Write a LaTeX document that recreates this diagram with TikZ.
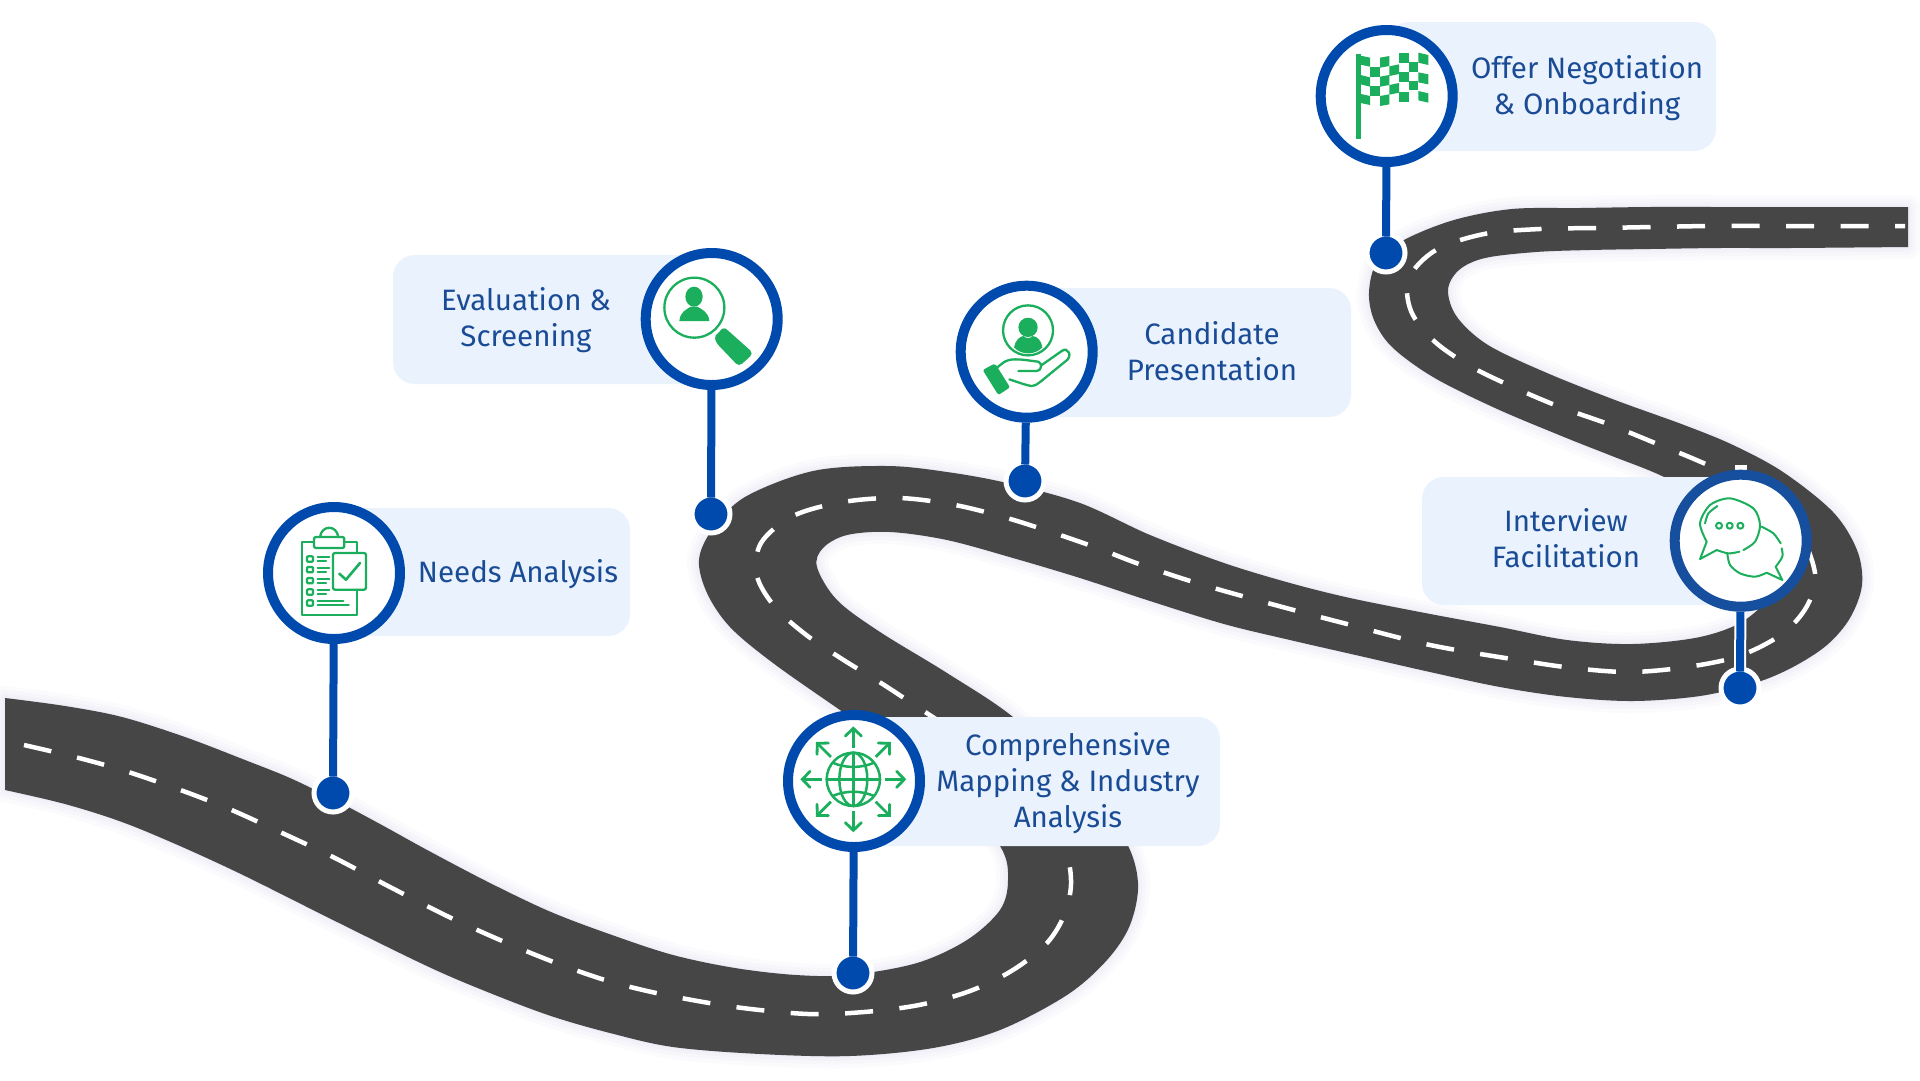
\documentclass[tikz,border=0pt]{standalone}
\usepackage{fontspec}
\setmainfont{Fira Sans}
\usetikzlibrary{calc}
\definecolor{roadc}{HTML}{464646}
\definecolor{ring}{HTML}{004AAD}
\definecolor{ringb}{HTML}{174F9F}
\definecolor{labelc}{HTML}{EAF2FE}
\definecolor{txt}{HTML}{1A4C96}
\definecolor{grn}{HTML}{1BAE5C}
\definecolor{glow}{HTML}{5A50C8}
\tikzset{
  labelbox/.style={fill=labelc,rounded corners=22pt,inner sep=0pt,draw=none},
  labeltext/.style={text=txt,font=\fontsize{29.5}{36}\selectfont,align=center,inner sep=0pt},
  pin/.style={circle,draw=ring,fill=white,line width=10pt,minimum size=132pt,inner sep=0pt},
  dotn/.style={circle,fill=ring,draw=white,line width=5pt,minimum size=38pt,inner sep=0pt},
  stem/.style={draw=ring,line width=8pt,shorten >=-5pt},
  halo/.style={draw=white,line width=12pt},
  ico/.style={draw=grn,line width=2.3pt,line join=round,line cap=round,fill=none},
  icof/.style={fill=grn,draw=none},
}
\def\roadA{(5,698) (65,706) (122,717) (185,737) (245,760) (290,778) (333,799) (380,824) (429,851) (490,883) (551,912) (612,935) (673,955) (735,968) (796,975) (850,975) (917,963) (967,940) (1000,910) (1008,880) (1000,846) (950,785) (895,748) (840,710) (773,663) (730,627) (707,593) (699,560) (712,530) (745,497) (813,471) (887,466) (947,472) (1007,483) (1080,503) (1150,535) (1224,563) (1290,583) (1350,598) (1425,613) (1500,627) (1567,640) (1633,644) (1700,637) (1745,620) (1770,590) (1755,545) (1715,505) (1662,476) (1612,456) (1564,437) (1495,408) (1433,377) (1392,347) (1374,320) (1369,292) (1377,262) (1404,240) (1454,220) (1512,209) (1580,208) (1650,207) (1720,207) (1790,207) (1908,207)}
\def\roadB{(1908,247) (1790,248) (1720,248) (1650,249) (1590,250) (1536,252) (1485,258) (1459,270) (1448,290) (1457,317) (1488,345) (1547,373) (1615,400) (1684,425) (1733,445) (1783,472) (1833,512) (1857,550) (1862,585) (1850,618) (1827,645) (1793,667) (1755,683) (1700,696) (1633,701) (1567,697) (1500,687) (1430,672) (1360,656) (1290,640) (1224,624) (1150,601) (1080,578) (1013,558) (947,540) (890,532) (847,535) (823,548) (817,567) (837,600) (880,632) (947,673) (1013,717) (1080,780) (1125,840) (1138,883) (1130,925) (1107,960) (1067,995) (1000,1030) (933,1048) (850,1056) (760,1054) (673,1047) (610,1033) (551,1016) (490,993) (429,967) (335,921) (245,876) (180,846) (122,822) (65,804) (5,790)}
\def\roadC{(24,745) (75,757) (122,770) (175,788) (227,808) (280,832) (333,857) (390,887) (447,916) (500,940) (551,961) (605,980) (661,994) (735,1007) (808,1014) (864,1012) (919,1005) (970,991) (1013,970) (1047,943) (1065,913) (1071,880) (1062,845) (1020,780) (970,742) (919,708) (881,683) (842,659) (805,634) (775,607) (757,576) (761,543) (793,516) (843,502) (899,498) (955,505) (1007,518) (1057,534) (1100,549) (1139,564) (1200,584) (1275,605) (1347,624) (1430,645) (1518,660) (1573,668) (1630,672) (1687,667) (1739,656) (1782,634) (1807,606) (1815,573) (1795,525) (1750,485) (1701,462) (1655,443) (1608,424) (1560,407) (1513,387) (1470,366) (1434,341) (1411,311) (1409,278) (1436,250) (1484,234) (1540,229) (1600,228) (1653,227) (1710,226) (1767,226) (1830,226) (1905,226)}
\begin{document}
\begin{tikzpicture}[x=1pt,y=-1pt]
\useasboundingbox (0,0) rectangle (1920,1080);
\fill[white] (0,0) rectangle (1920,1080);
% road
\foreach \w in {24,16,9,3}{
  \draw[glow,opacity=.022,line width=\w pt,line join=round] plot[smooth,tension=.55] coordinates {\roadA} -- plot[smooth,tension=.55] coordinates {\roadB} -- cycle;
}
\fill[roadc] plot[smooth,tension=.55] coordinates {\roadA} -- plot[smooth,tension=.55] coordinates {\roadB} -- cycle;
\draw[white,line width=4.5pt,dash pattern=on 28pt off 26.5pt] plot[smooth,tension=.55] coordinates {\roadC};
% label boxes
\node[labelbox,minimum width=296pt,minimum height=128pt] (b1) at (482,572) {};
\node[labelbox,minimum width=318pt,minimum height=129pt] (b2) at (552,319.5) {};
\node[labelbox,minimum width=324pt,minimum height=129pt] (b3) at (1189,352.5) {};
\node[labelbox,minimum width=366pt,minimum height=129pt] (b4) at (1037,781.5) {};
\node[labelbox,minimum width=319pt,minimum height=128pt] (b5) at (1581.5,541) {};
\node[labelbox,minimum width=329pt,minimum height=129pt] (b6) at (1551.5,86.5) {};
\node[labeltext] (t1) at (518,574.5) {Needs Analysis};
\node[labeltext] (t2) at (526,320.5) {Evaluation \&\\Screening};
\node[labeltext] (t3) at (1212,351.5) {Candidate\\Presentation};
\node[labeltext] (t4) at (1068,783.5) {Comprehensive\\Mapping \& Industry\\Analysis};
\node[labeltext] (t5) at (1566,538.5) {Interview\\Facilitation};
\node[labeltext] (t6) at (1587,88.5) {Offer Negotiation\\\& Onboarding};
% coordinates for stems, pins
\coordinate (k1) at (334,573);
\coordinate (k2) at (711.7,319);
\coordinate (k3) at (1026.7,351.7);
\coordinate (k4) at (854,781);
\coordinate (k5) at (1740.7,540.7);
\coordinate (k6) at (1386.7,96);
\draw[halo] (1741,465) -- (1741,540);
\foreach \c/\x/\y in {k1/333/793,k2/711/514,k3/1025/481,k4/853/973,k5/1740/688,k6/1386/253}{
  \draw[halo] (\c) -- (\x,\y);
}
\node[dotn] (d1) at (333,793) {};
\node[dotn] (d2) at (711,514) {};
\node[dotn] (d3) at (1025,481) {};
\node[dotn] (d4) at (853,973) {};
\node[dotn] (d5) at (1740,688) {};
\node[dotn] (d6) at (1386,253) {};
\node[pin] (c1) at (k1) {};
\node[pin] (c2) at (k2) {};
\node[pin] (c3) at (k3) {};
\node[pin] (c4) at (k4) {};
\node[pin,draw=ringb] (c5) at (k5) {};
\node[pin] (c6) at (k6) {};
\foreach \n in {1,2,3,4,5,6}{ \draw[stem] (c\n) -- (d\n); }
% icon 1: clipboard
\begin{scope}[shift={(k1)},scale=1/3,shift={(-282,-280)}]
  \draw[ico] (222,187) -- (185,187) -- (185,405) -- (350,405) -- (350,330);
  \draw[ico] (313,187) -- (350,187) -- (350,218);
  \draw[ico,rounded corners=2pt] (222,172) rectangle (313,205);
  \draw[ico] (240,172) .. controls (245,135) and (290,135) .. (295,172);
  \draw[ico,rounded corners=2pt] (279,220) rectangle (378,330);
  \draw[ico,line width=2.6pt] (298,282) -- (318,300) -- (360,250);
  \foreach \yy in {238,270,303,337,370}{ \draw[ico,rounded corners=1pt] (201,\yy-8) rectangle (219,\yy+8); }
  \foreach \yy/\xa/\xb in {233/268/258,265/268/258,297/268/258,330/268/258}{
    \draw[ico] (233,\yy) -- (\xa,\yy); \draw[ico] (233,\yy+12) -- (\xb,\yy+12);
  }
  \draw[ico] (233,363) -- (310,363);
  \draw[ico] (233,377) -- (326,377);
\end{scope}
% icon 2: magnifier
\begin{scope}[shift={(k2)},scale=1/3,shift={(-275,-237)}]
  \draw[ico] (223,203) circle[radius=90];
  \fill[grn] (222,170) ellipse[x radius=26,y radius=30];
  \fill[grn] (178,243) .. controls (180,215) and (200,208) .. (212,200) -- (232,200) .. controls (245,208) and (265,215) .. (268,243) -- cycle;
  \fill[grn,rounded corners=2pt] (283,290) -- (290,310) -- (352,375) -- (362,375) -- (395,345) -- (395,335) -- (320,268) -- (310,262) -- (303,270) -- cycle;
\end{scope}
% icon 3: hand
\begin{scope}[shift={(k3)},scale=1/3,shift={(-260,-245)}]
  \draw[ico] (264,181) circle[radius=75];
  \fill[grn] (264,172) circle[radius=29];
  \fill[grn] (222,232) .. controls (225,212) and (240,198) .. (250,198) .. controls (258,206) and (270,206) .. (278,198) .. controls (290,198) and (305,212) .. (307,232) .. controls (285,256) and (244,256) .. (222,232) -- cycle;
  \fill[grn,rounded corners=2pt] (128,300) -- (165,280) -- (210,352) -- (175,375) -- cycle;
  \draw[ico] (172,292) .. controls (185,282) and (195,268) .. (225,268) .. controls (250,268) and (270,272) .. (295,275) .. controls (308,280) and (305,302) .. (290,303) -- (235,303);
  \draw[ico] (208,328) .. controls (230,335) and (255,345) .. (275,348) .. controls (290,348) and (300,335) .. (375,275) .. controls (400,260) and (385,228) .. (365,243) -- (305,285);
\end{scope}
% icon 4: globe
\begin{scope}[shift={(k4)},scale=1/3,shift={(-252,-243)}]
  \begin{scope}[ico,line width=2.5pt]
    \draw (250,238) circle[radius=80];
    \draw (250,158) -- (250,318);
    \draw (170,238) -- (330,238);
    \draw (250,238) ellipse[x radius=42,y radius=80];
    \draw (188,188) .. controls (225,205) and (275,205) .. (312,188);
    \draw (188,288) .. controls (225,271) and (275,271) .. (312,288);
  \end{scope}
  \foreach \a in {0,45,...,315}{
    \begin{scope}[shift={(250,238)},rotate=\a]
      \draw[ico,line width=2.8pt,line cap=butt] (95,0) -- (153,0);
      \draw[ico,line width=2.8pt,line join=miter] (130,-24) -- (153,0) -- (130,24);
    \end{scope}
  }
\end{scope}
% icon 5: chat
\begin{scope}[shift={(k5)},scale=1/3,shift={(-242,-242)}]
  \draw[ico,line width=2pt] plot[smooth] coordinates {(170,270) (205,280) (238,275)};
  \draw[ico,line width=2pt] plot[smooth] coordinates {(250,270) (285,245) (300,195) (280,145) (210,115) (150,135) (120,190) (140,245)} -- (120,297) -- (170,270);
  \draw[ico,line width=2pt] plot[smooth] coordinates {(172,138) (145,160) (135,190)};
  \draw[ico,line width=2pt] plot[smooth] coordinates {(305,200) (340,220) (362,250)};
  \draw[ico,line width=2pt] plot[smooth] coordinates {(365,265) (367,290) (347,320)} -- (367,360) -- (320,338);
  \draw[ico,line width=2pt] plot[smooth] coordinates {(320,338) (285,350) (240,340) (210,315) (202,282)};
  \foreach \xx in {177,209,241}{ \draw[ico,line width=2pt] (\xx,197) circle[radius=9]; }
\end{scope}
% icon 6: flag
\begin{scope}[shift={(k6)},scale=1/3,shift={(-230,-228)}]
  \fill[grn] (138,103) rectangle (152,357);
  \foreach \xa/\xb/\ya/\yb/\h in {
    152/180/107/113/27,152/180/165/172/28,152/180/222/228/27,
    180/210/141/141/29,180/210/198/198/29,
    210/238/113/108/30,210/238/170/165/30,210/238/228/223/30,
    238/267/139/133/29,238/267/195/189/29,
    267/296/100/100/30,267/296/157/157/30,267/296/215/215/30,
    296/325/125/125/30,296/325/182/182/29,
    325/355/98/105/30,325/355/157/163/30,325/355/213/220/28}{
    \fill[grn] (\xa,\ya) -- (\xb,\yb) -- (\xb,\yb+\h) -- (\xa,\ya+\h) -- cycle;
  }
\end{scope}
\end{tikzpicture}
\end{document}
